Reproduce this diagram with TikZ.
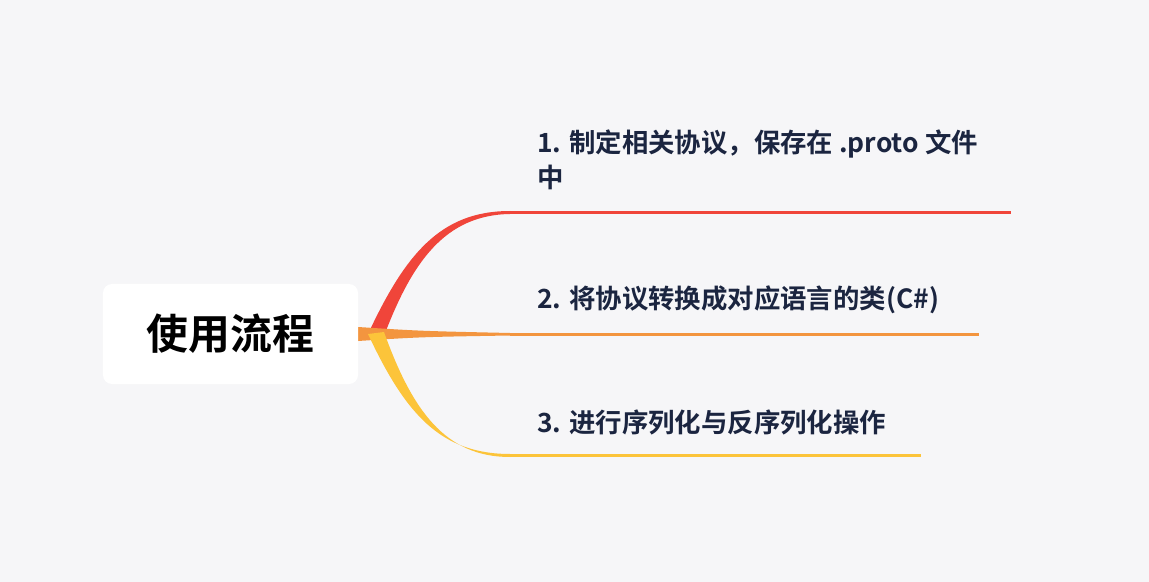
\documentclass[tikz,border=0pt]{standalone}
\usepackage{fontspec}
\newfontfamily\cjk{Noto Sans CJK SC}[BoldFont={Noto Sans CJK SC Bold}]
\definecolor{bg}{HTML}{F6F6F8}
\definecolor{txt}{HTML}{1B2540}
\definecolor{cred}{HTML}{F0453A}
\definecolor{corange}{HTML}{F3953F}
\definecolor{cyellow}{HTML}{FCC43A}
\tikzset{lbl/.style={anchor=west,text=txt,font=\cjk\bfseries\fontsize{26.5}{35}\selectfont,align=left,inner sep=0pt}}
\begin{document}
\begin{tikzpicture}[x=1bp,y=-1bp]
\fill[bg] (0,0) rectangle (1149,582);
\useasboundingbox (0,0) rectangle (1149,582);
% branches
\fill[cred] (368,334) .. controls (405,255) and (440,211) .. (510,211) -- (510,214) .. controls (445,215) and (412,262) .. (384,336) -- cycle;
\draw[cred,line width=2.5bp] (510,212.5) coordinate (r0) -- (1011,212.5) coordinate (r1);
\fill[corange] (358,327) .. controls (420,331) .. (510,333) -- (510,335.5) .. controls (420,337) .. (358,341) -- cycle;
\draw[corange,line width=2.5bp] (510,334.3) coordinate (o0) -- (979,334.3) coordinate (o1);
\fill[cyellow] (368,334) .. controls (405,413) and (440,454) .. (510,454) -- (510,457) .. controls (445,457) and (412,410) .. (384,332) -- cycle;
\draw[cyellow,line width=2.5bp] (510,455.5) coordinate (y0) -- (921,455.5) coordinate (y1);
% root
\node[fill=white,rounded corners=9bp,minimum width=255bp,minimum height=100bp,inner sep=0pt] (root) at (230.5,334) {};
\node[font=\cjk\bfseries\fontsize{42}{48}\selectfont,text=black] (roott) at (230.5,334) {使用流程};
% labels
\node[lbl] (l1) at (537,160) {1. 制定相关协议，保存在 .proto 文件\\中};
\node[lbl] (l2) at (537,300) {2. 将协议转换成对应语言的类(C\#)};
\node[lbl] (l3) at (537,422) {3. 进行序列化与反序列化操作};
\end{tikzpicture}
\end{document}
